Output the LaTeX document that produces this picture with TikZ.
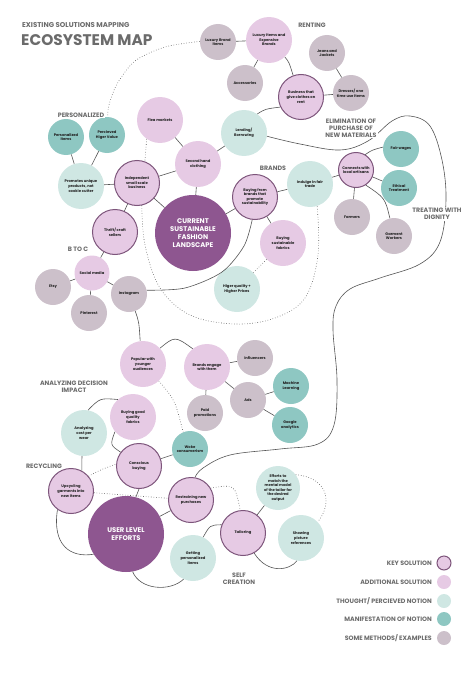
\documentclass[tikz,border=0pt]{standalone}
\usepackage{fontspec}
\setmainfont{Poppins}
\definecolor{keyline}{HTML}{7D557B}
\definecolor{pinkfill}{HTML}{E6CAE4}
\definecolor{mintfill}{HTML}{CFE7E3}
\definecolor{tealfill}{HTML}{8EC7C2}
\definecolor{mauvefill}{HTML}{CCC0CA}
\definecolor{plum}{HTML}{8E5690}
\definecolor{linegrey}{HTML}{555555}
\definecolor{headgrey}{HTML}{6B6B6B}
\definecolor{inktext}{HTML}{222222}
\tikzset{
  bubble/.style={circle, inner sep=0pt, align=center, text=inktext,
    font=\fontsize{3.7}{4.6}\selectfont\bfseries},
  keysol/.style={bubble, fill=pinkfill, draw=keyline, line width=1pt, minimum size=45pt},
  addsol/.style={bubble, fill=pinkfill, minimum size=46pt},
  thought/.style={bubble, fill=mintfill, minimum size=46pt},
  notion/.style={bubble, fill=tealfill, minimum size=36pt},
  method/.style={bubble, fill=mauvefill, minimum size=36pt},
  lesser/.style={minimum size=35pt},
  bigsol/.style={circle, fill=plum, text=white, align=center, minimum size=76pt,
    font=\fontsize{6.8}{8}\selectfont\bfseries},
  heading/.style={text=headgrey, align=center, fill=white, inner sep=1pt,
    font=\fontsize{6.3}{7.2}\selectfont\bfseries},
  legendtext/.style={text=headgrey, inner sep=0pt, anchor=east,
    font=\fontsize{6.3}{7}\selectfont\bfseries},
  link/.style={linegrey, line width=0.6pt},
  hint/.style={linegrey, line width=0.6pt, dotted},
}
\begin{document}
\begin{tikzpicture}[x=1pt,y=-1pt]
\useasboundingbox (0,0) rectangle (474,677);

\node[anchor=west, inner sep=0pt, text=headgrey, font=\fontsize{7}{8}\selectfont\bfseries] (subtitle) at (22,25) {EXISTING SOLUTIONS MAPPING};
\node[anchor=west, inner sep=0pt, text=headgrey, font=\fontsize{15.4}{17}\selectfont\bfseries] (title) at (21,40) {ECOSYSTEM MAP};

% renting
\node[method] (lbrand) at (218,42) {Luxury Brand\\Items};
\node[addsol] (luxitems) at (269,40) {Luxury Items and\\Expensive\\Brands};
\node[method] (access) at (245,83) {Accessories};
\node[method] (jeans) at (327,53) {Jeans and\\Jackets};
\node[keysol] (rent) at (301,97) {Business that\\give clothes on\\rent};
\node[method] (dress) at (351,93) {Dresses/ one\\time use items};

% current landscape
\node[thought] (lend) at (244,133) {Lending/\\Borrowing};
\node[addsol] (flea) at (160,120) {Flea markets};
\node[addsol] (second) at (198,164) {Second hand\\clothing};
\node[keysol] (indep) at (137,183) {Independent\\small scale\\business};
\node[thought] (promote) at (81,186) {Promotes unique\\products, not\\cookie cutter};
\node[notion] (persitems) at (66,137) {Personalized\\Items};
\node[notion] (perc) at (107,135) {Percieved\\Higer Value};
\node[keysol] (thrift) at (115,232) {Thrift/ craft\\sellers};
\node[addsol, lesser] (social) at (92,273) {Social media};
\node[method] (etsy) at (53,287) {Etsy};
\node[method] (pinterest) at (89,313) {Pinterest};
\node[method] (insta) at (129,294) {Instagram};
\node[bigsol] (current) at (193,233) {CURRENT\\SUSTAINABLE\\FASHION\\LANDSCAPE};
\node[keysol] (brandsus) at (255,197) {Buying from\\brands that\\promote\\sustainability};
\node[thought] (indulge) at (310,184) {Indulge in fair\\trade};
\node[addsol] (susfab) at (283,243) {Buying\\sustainable\\fabrics};
\node[thought] (higher) at (237,289) {Higer quality +\\Higher Prices};
\node[keysol, lesser] (artisans) at (356,170) {Connects with\\local artisans};
\node[notion] (wages) at (401,149) {Fair wages};
\node[notion] (ethical) at (399,188) {Ethical\\Treatment};
\node[method] (farmers) at (352,217) {Farmers};
\node[method] (garment) at (394,236) {Garment\\Workers};

% user level
\node[addsol] (popular) at (143,364) {Popular with\\younger\\audiences};
\node[addsol] (engage) at (207,367) {Brands engage\\with them};
\node[method] (influ) at (255,358) {Influencers};
\node[notion] (ml) at (291,386) {Machine\\Learning};
\node[method] (ads) at (248,400) {Ads};
\node[notion] (google) at (290,425) {Google\\analytics};
\node[method] (paid) at (205,413) {Paid\\promotions};
\node[addsol] (goodq) at (133,417) {Buying good\\quality\\fabrics};
\node[thought] (analyze) at (84,433) {Analyzing\\cost per\\wear};
\node[notion] (woke) at (190,449) {Woke\\consumerism};
\node[keysol] (conscious) at (139,466) {Conscious\\buying};
\node[keysol] (upcycle) at (71,491) {Upcycling\\garments into\\new items};
\node[bigsol] (user) at (126,534) {USER LEVEL\\EFFORTS};
\node[keysol] (restrain) at (191,500) {Restraining new\\purchases};
\node[thought] (getting) at (193,558) {Getting\\personalized\\items};
\node[keysol] (tailor) at (243,533) {Tailoring};
\node[thought, minimum size=44pt] (efforts) at (278,488) {Efforts to\\match the\\mental model\\of the tailor for\\the desired\\output};
\node[thought] (showing) at (301,538) {Showing\\picture\\references};

\draw[link] (lbrand) -- (luxitems);
\draw[link] (luxitems) -- (access);
\draw[link] (luxitems.-47) .. controls (289,62) .. (rent.110);
\draw[link] (jeans) -- (dress);
\draw[link] (rent) -- (dress);
\draw[link] (rent.-154) .. controls (265,109) .. (lend.55);
\draw[link] (lend) -- (second);
\draw[link] (flea) -- (second);
\draw[link] (second) -- (current);
\draw[link] (second) -- (indep);
\draw[link] (indep) -- (promote);
\draw[link] (indep) -- (current);
\draw[link] (indep) -- (thrift);
\draw[link] (promote) -- (persitems);
\draw[link] (promote) -- (perc);
\draw[link] (thrift) -- (social);
\draw[link] (social) -- (etsy);
\draw[link] (social) -- (pinterest);
\draw[link] (social) -- (insta);
\draw[link] (current) -- (brandsus);
\draw[link] (brandsus) -- (indulge);
\draw[link] (brandsus) -- (susfab);
\draw[hint] (susfab) -- (higher);
\draw[link] (indulge) -- (artisans);
\draw[link] (artisans.59) .. controls (372,150) .. (wages.174);
\draw[link] (artisans) -- (ethical);
\draw[link] (artisans) -- (farmers);
\draw[link] (artisans.-57) .. controls (385,198) .. (garment.103);
\draw[hint] (flea.-125) -- (indep.70);
\draw[hint] plot[smooth, tension=0.6] coordinates {(indep.-78) (145,245) (160,288) (190,315) (235,324) (275,318) (305,298) (318,255) (indulge.-72)};
\draw[hint] plot[smooth] coordinates {(lbrand.178) (165,47) (135,61) (117,84) (109,105) (perc.88)};
\draw[link] plot[smooth] coordinates {(insta.12) (185,288) (222,272) (244,246) (brandsus.-97)};
\draw[link] plot[smooth, tension=0.6] coordinates {(lend.-8) (300,144) (340,150) (368,141) (392,121) (410,116) (430,126) (442,160) (446,200) (440,242) (420,264) (380,278) (350,289) (336,306) (333,330) (337,380) (334,425) (318,444) (280,449) (230,455) (203,468) (restrain.80)};

\draw[link] (insta.-70) .. controls (139,322) .. (popular.97);
\draw[link] (popular.43) .. controls (175,336) .. (engage.128);
\draw[link] (engage) -- (influ);
\draw[link] (engage) -- (paid);
\draw[link] (engage) -- (ads);
\draw[link] (ads) -- (ml);
\draw[link] (ads) -- (google);
\draw[hint] (popular.-47) .. controls (175,400) .. (woke.112);
\draw[link] (analyze.80) .. controls (100,398) .. (goodq.131);
\draw[link] (goodq.-141) .. controls (110,445) .. (conscious.143);
\draw[link] (analyze.-95) -- (upcycle.62);
\draw[link] (woke) -- (conscious);
\draw[hint] (upcycle.40) .. controls (100,470) .. (conscious.175);
\draw[hint] (upcycle) -- (restrain);
\draw[link] (conscious.-90) -- (user.75);
\draw[link] (upcycle.-126) .. controls (52,545) and (70,558) .. (user.-148);
\draw[link] (user) -- (restrain);
\draw[link] (user.-80) .. controls (140,590) and (170,592) .. (getting.-114);
\draw[link] (getting.64) .. controls (210,525) .. (tailor.159);
\draw[hint] (restrain.31) .. controls (235,484) .. (tailor.97);
\draw[link] (tailor) -- (efforts);
\draw[link] (tailor.-61) .. controls (268,575) and (290,570) .. (showing.-100);
\draw[hint] (efforts.37) .. controls (330,478) and (332,505) .. (showing.44);

\node[heading] (hpers) at (81,115) {PERSONALIZED};
\node[heading] (hrent) at (312,25) {RENTING};
\node[heading] (helim) at (351,128) {ELIMINATION OF\\PURCHASE OF\\NEW MATERIALS};
\node[heading] (hbrand) at (273,168) {BRANDS};
\node[heading] (hdign) at (437,214) {TREATING WITH\\DIGNITY};
\node[heading] (hbtoc) at (78,249) {B TO C};
\node[heading] (hanal) at (74,387) {ANALYZING DECISION\\IMPACT};
\node[heading] (hrecy) at (44,466) {RECYCLING};
\node[heading] (hself) at (239,579) {SELF\\CREATION};

% legend
\foreach \yy/\sty/\txt [count=\i] in {563/keysol/{KEY SOLUTION}, 582/addsol/{ADDITIONAL SOLUTION}, 601/thought/{THOUGHT/ PERCIEVED NOTION}, 619/notion/{MANIFESTATION OF NOTION}, 638/method/{SOME METHODS/ EXAMPLES}} {
  \node[\sty, minimum size=14pt] (leg\i) at (444,\yy) {};
  \node[legendtext] (legtxt\i) at (432,\yy) {\txt};
}
\end{tikzpicture}
\end{document}
